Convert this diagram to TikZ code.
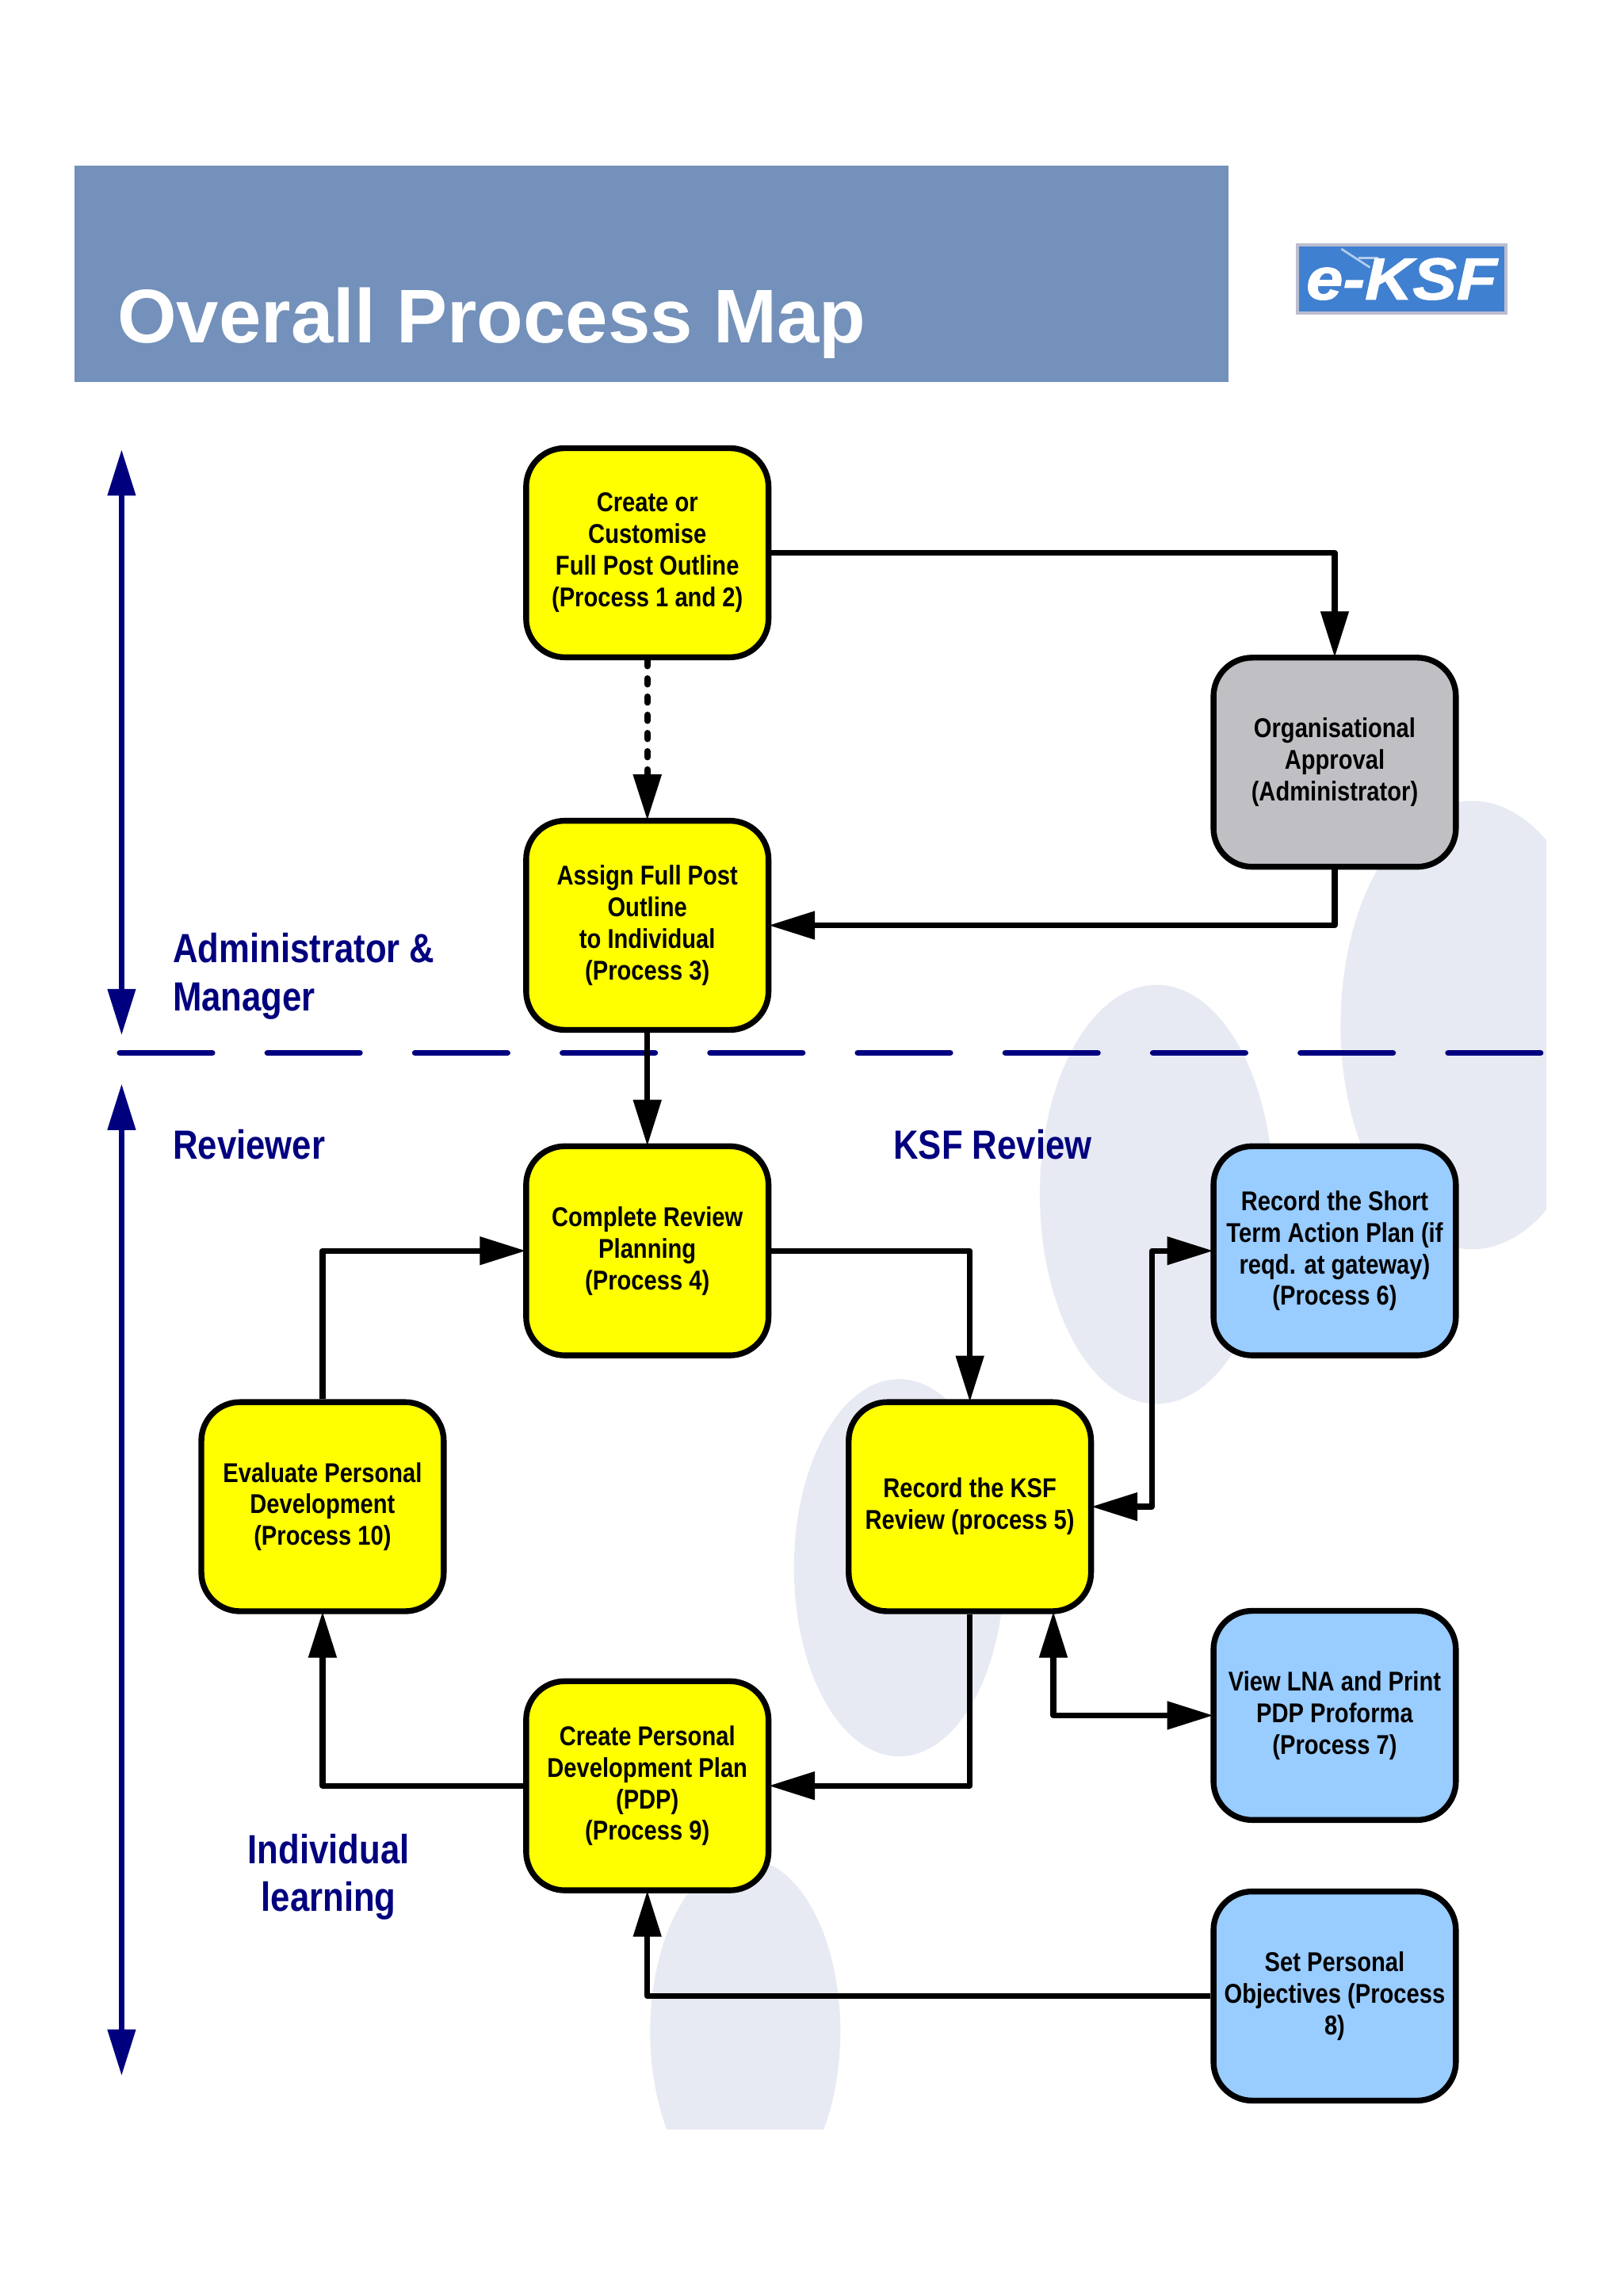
\documentclass[tikz,border=0pt]{standalone}
\usepackage{fontspec}
\setmainfont{Liberation Sans}
\newfontfamily\narrowfont[FakeStretch=0.85]{Liberation Sans}
\newfontfamily\logofont[FakeStretch=1.12,FakeBold=1.5]{Liberation Sans}
\usepackage{tikz}
\usetikzlibrary{arrows.meta}
\definecolor{headerblue}{HTML}{7391BA}
\definecolor{logoblue}{HTML}{4080D0}
\definecolor{logoedge}{HTML}{BBBDD0}
\definecolor{blobgrey}{HTML}{E8EAF3}
\definecolor{navyline}{HTML}{00007F}
\definecolor{paleblue}{HTML}{99CCFF}
\definecolor{boxgrey}{HTML}{C0BFC4}
\definecolor{boxyellow}{RGB}{255,255,0}
\tikzset{
    procbox/.style={draw=black,line width=2.15pt,rounded corners=0.5cm,minimum width=3.135cm,minimum height=2.705cm,inner sep=0pt,align=center,execute at begin node={\vspace*{1.6pt}},font=\narrowfont\bfseries\fontsize{10}{11.65}\selectfont},
    yellowbox/.style={procbox,fill=boxyellow},
    bluebox/.style={procbox,fill=paleblue},
    greybox/.style={procbox,fill=boxgrey},
    flow/.style={draw=black,line width=2.1pt,line join=round,shorten >=-1pt,-{Triangle[length=17pt,width=10pt]}},
    flowboth/.style={flow,shorten <=-1pt,{Triangle[length=17pt,width=10pt]}-{Triangle[length=17pt,width=10pt]}},
    rolearrow/.style={draw=navyline,line width=2pt,{Triangle[length=17pt,width=10pt]}-{Triangle[length=17pt,width=10pt]}},
    rolelabel/.style={text=navyline,inner sep=0pt,align=left,font=\narrowfont\bfseries\fontsize{15}{17.6}\selectfont}
}

\begin{document}
\begin{tikzpicture}
                \useasboundingbox (0,0) rectangle (21,29.7);

                \begin{scope}
                    \clip (0,2.16) rectangle (20,29.7);
                    \fill[blobgrey] (19.04,16.44) ellipse (1.70 and 2.90);
                    \fill[blobgrey] (14.96,14.25) ellipse (1.51 and 2.71);
                    \fill[blobgrey] (11.63,9.42) ellipse (1.36 and 2.44);
                    \fill[blobgrey] (9.64,3.42) ellipse (1.23 and 2.24);
                \end{scope}

                \fill[headerblue] (0.966,24.76) rectangle (15.89,27.56);
                \node[anchor=base west,inner sep=0pt,text=white,font=\bfseries\fontsize{28}{33}\selectfont] (title) at (1.513,25.27) {Overall Process Map};
                \node[draw=logoedge,fill=logoblue,line width=1.3pt,minimum width=2.7cm,minimum height=0.88cm,inner sep=0pt,text=white,font=\logofont\bfseries\itshape\fontsize{21.7}{24}\selectfont] (logo) at (18.13,26.09) {e-KSF};
                \draw[white,opacity=0.6,line width=0.8pt] (17.35,26.48) -- (17.72,26.24);
                \draw[white,opacity=0.6,line width=0.8pt] (17.57,26.36) -- (17.83,26.36);

                \node[yellowbox] (create) at (8.373,22.55) {Create or\\Customise\\Full Post Outline\\(Process 1 and 2)};
                \node[greybox] (approval) at (17.264,19.84) {Organisational\\Approval\\(Administrator)};
                \node[yellowbox] (assign) at (8.373,17.73) {Assign Full Post\\Outline\\to Individual\\(Process 3)};
                \node[yellowbox] (planning) at (8.373,13.52) {Complete Review\\Planning\\(Process 4)};
                \node[bluebox] (shortterm) at (17.264,13.52) {Record the Short\\Term Action Plan (if\\reqd. at gateway)\\(Process 6)};
                \node[yellowbox] (evaluate) at (4.172,10.21) {Evaluate Personal\\Development\\(Process 10)};
                \node[yellowbox] (review) at (12.545,10.21) {Record the KSF\\Review (process 5)};
                \node[bluebox] (lna) at (17.264,7.51) {View LNA and Print\\PDP Proforma\\(Process 7)};
                \node[yellowbox] (pdp) at (8.373,6.60) {Create Personal\\Development Plan\\(PDP)\\(Process 9)};
                \node[bluebox] (objectives) at (17.264,3.88) {Set Personal\\Objectives (Process\\8)};

                \node[rolelabel,anchor=west] (admin) at (2.23,17.07) {Administrator \&\\Manager};
                \node[rolelabel,anchor=base west] (reviewer) at (2.23,14.71) {Reviewer};
                \node[rolelabel,anchor=base west] (ksf) at (11.55,14.71) {KSF Review};
                \node[rolelabel,align=center] (learning) at (4.25,5.42) {Individual\\learning};

                \coordinate (admintop) at (1.573,23.885);
                \coordinate (adminend) at (1.573,16.31);
                \coordinate (reviewtop) at (1.573,15.68);
                \coordinate (reviewend) at (1.573,2.85);
                \coordinate (splitleft) at (1.55,16.08);
                \coordinate (splitright) at (19.94,16.08);
                \coordinate (busshort) at (14.90,10.21);
                \coordinate (buslna) at ([xshift=1.08cm]review.south);

                \draw[rolearrow] (admintop) -- (adminend);
                \draw[rolearrow] (reviewtop) -- (reviewend);
                \draw[navyline,line width=2.2pt,line cap=round,dash pattern=on 1.195cm off 0.714cm] (splitleft) -- (splitright);

                \draw[flow] (create) -| (approval);
                \draw[flow,line width=2.3pt,line cap=round,dash pattern=on 2.2pt off 4.5pt] (create) -- (assign);
                \draw[flow] (approval) |- (assign);
                \draw[flow] (assign) -- (planning);
                \draw[flow] (planning) -| (review);
                \draw[flowboth] (review) -- (busshort) |- (shortterm);
                \draw[flowboth] (buslna) |- (lna);
                \draw[flow] (review) |- (pdp);
                \draw[flow] (pdp) -| (evaluate);
                \draw[flow] (evaluate) |- (planning);
                \draw[flow] (objectives) -| (pdp);
\end{tikzpicture}
\end{document}
